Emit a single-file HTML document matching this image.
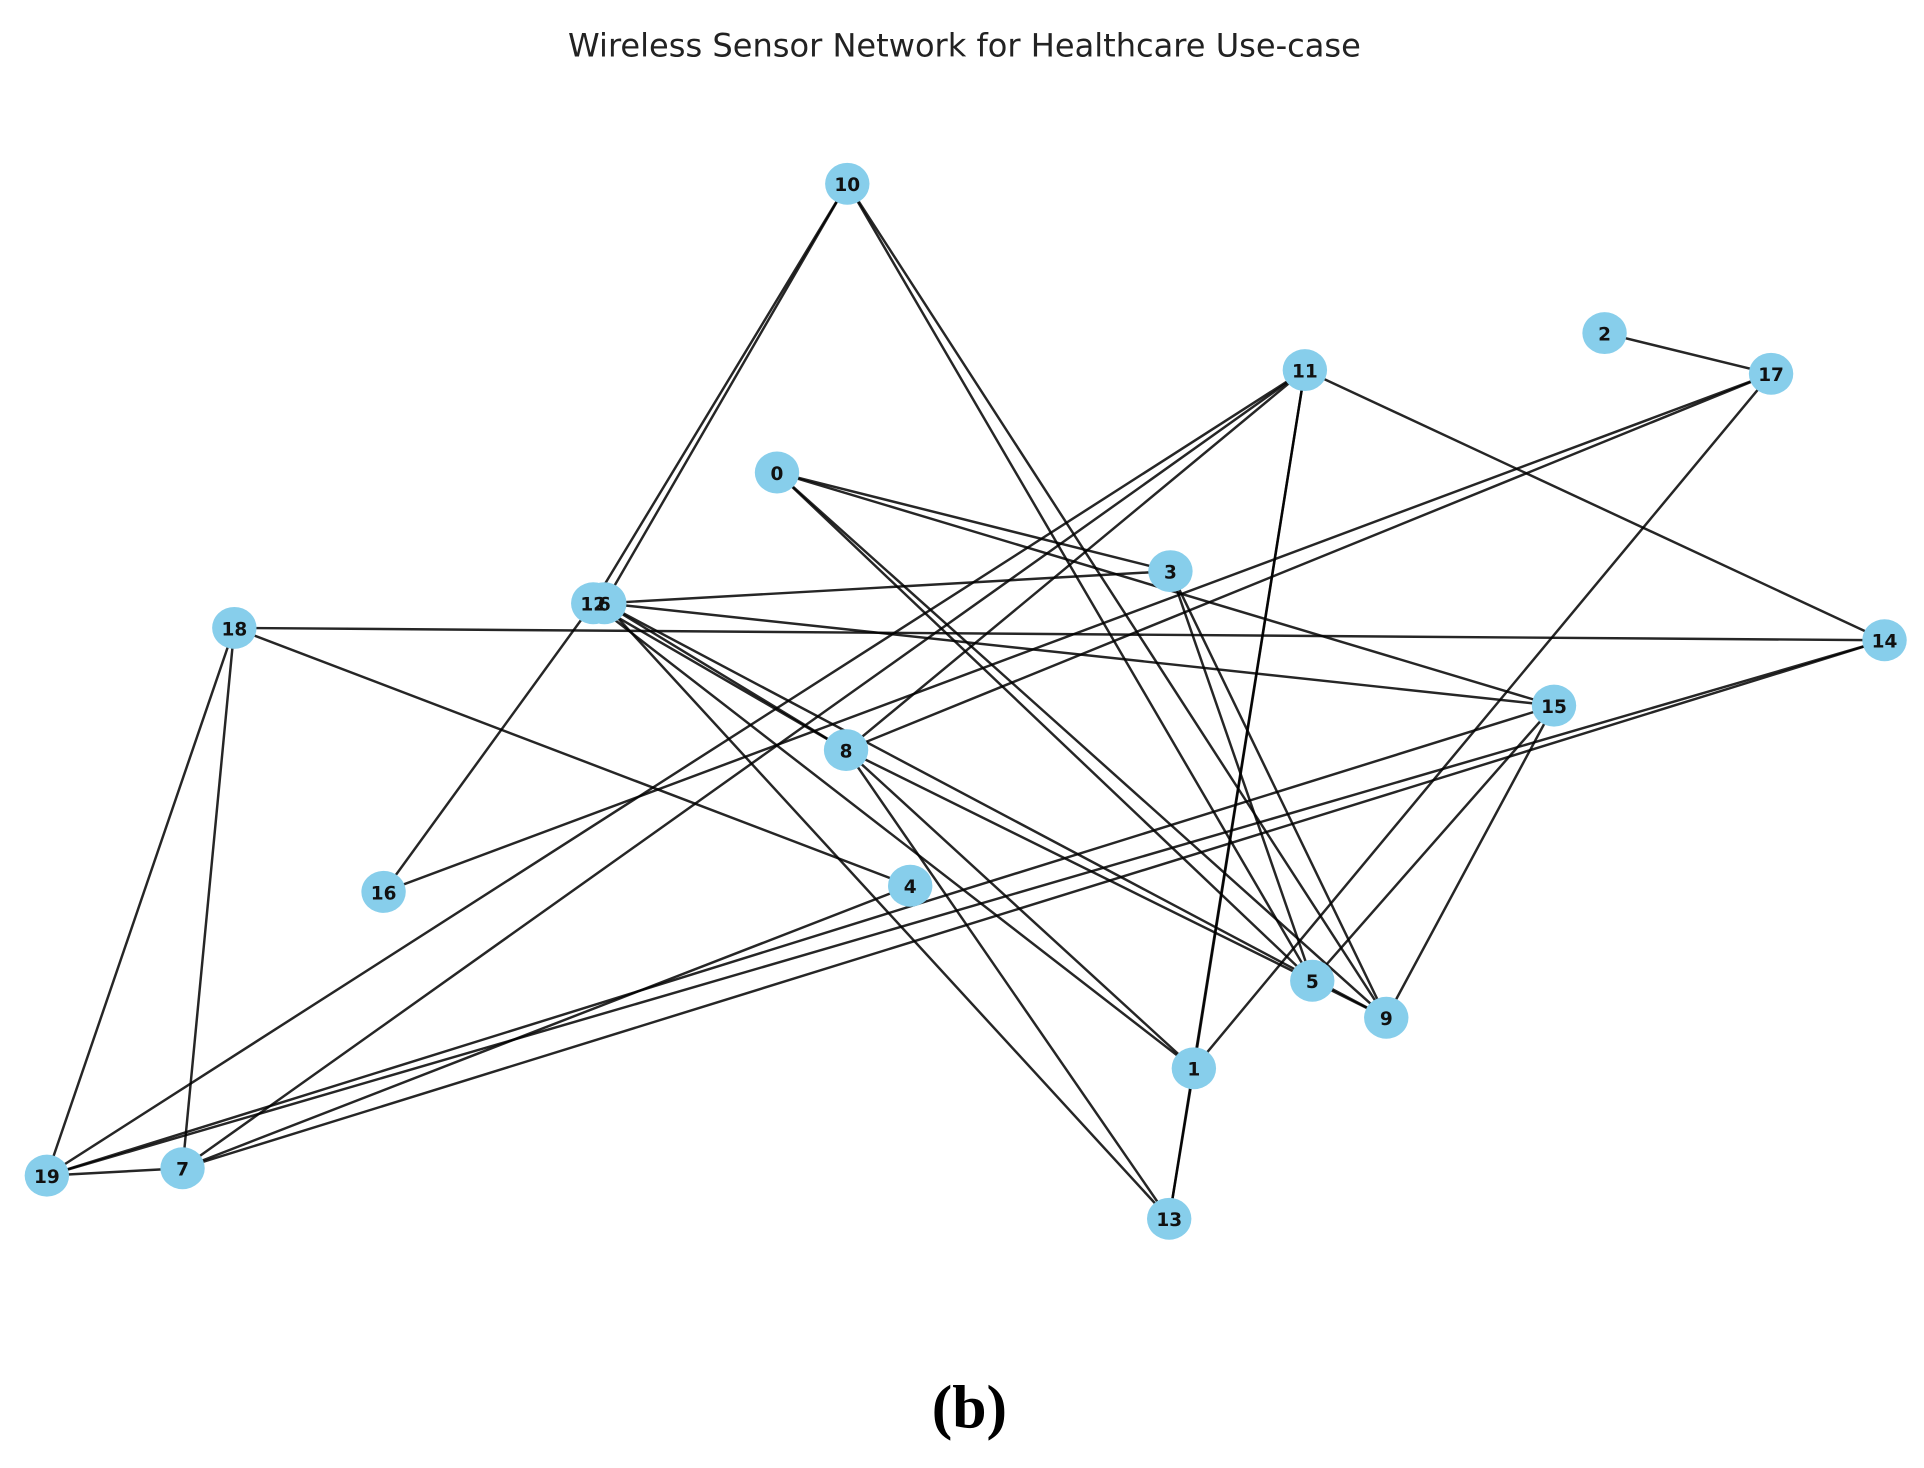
<!DOCTYPE html>
<html><head><meta charset="utf-8"><style>
html,body{margin:0;padding:0;background:#fff;}
svg{display:block;}
</style></head><body>
<svg width="1924" height="1468" viewBox="0 0 1560 1190" preserveAspectRatio="none" xmlns="http://www.w3.org/2000/svg">
<rect width="1560" height="1190" fill="#fff"/>
<text x="782" y="46" text-anchor="middle" font-family="DejaVu Sans, sans-serif" font-size="26" fill="#222">Wireless Sensor Network for Healthcare Use-case</text>
<text x="786" y="1157" text-anchor="middle" font-family="Liberation Serif, serif" font-size="50" font-weight="bold" fill="#000">(b)</text>
<g stroke="#000" stroke-width="2" stroke-opacity="0.85">
<line x1="1301" y1="270" x2="1436" y2="303"/>
<line x1="1436" y1="303" x2="311" y2="723"/>
<line x1="1436" y1="303" x2="686" y2="608"/>
<line x1="1436" y1="303" x2="968" y2="866"/>
<line x1="1058" y1="300" x2="686" y2="608"/>
<line x1="1058" y1="300" x2="38" y2="953"/>
<line x1="1058" y1="300" x2="148" y2="947"/>
<line x1="1058" y1="300" x2="968" y2="866"/>
<line x1="1058" y1="300" x2="948" y2="988"/>
<line x1="1058" y1="300" x2="1528" y2="519"/>
<line x1="687" y1="149" x2="481" y2="489"/>
<line x1="687" y1="149" x2="490" y2="489"/>
<line x1="687" y1="149" x2="1064" y2="795"/>
<line x1="687" y1="149" x2="1124" y2="825"/>
<line x1="630" y1="383" x2="949" y2="463"/>
<line x1="630" y1="383" x2="1260" y2="572"/>
<line x1="630" y1="383" x2="1064" y2="795"/>
<line x1="630" y1="383" x2="1124" y2="825"/>
<line x1="949" y1="463" x2="490" y2="489"/>
<line x1="949" y1="463" x2="1064" y2="795"/>
<line x1="949" y1="463" x2="1124" y2="825"/>
<line x1="490" y1="489" x2="1260" y2="572"/>
<line x1="490" y1="489" x2="686" y2="608"/>
<line x1="481" y1="489" x2="686" y2="608"/>
<line x1="490" y1="489" x2="1124" y2="825"/>
<line x1="481" y1="489" x2="968" y2="866"/>
<line x1="490" y1="489" x2="948" y2="988"/>
<line x1="481" y1="489" x2="311" y2="723"/>
<line x1="686" y1="608" x2="1064" y2="795"/>
<line x1="686" y1="608" x2="968" y2="866"/>
<line x1="686" y1="608" x2="948" y2="988"/>
<line x1="190" y1="509" x2="1528" y2="519"/>
<line x1="190" y1="509" x2="738" y2="718"/>
<line x1="190" y1="509" x2="38" y2="953"/>
<line x1="190" y1="509" x2="148" y2="947"/>
<line x1="1528" y1="519" x2="38" y2="953"/>
<line x1="1528" y1="519" x2="148" y2="947"/>
<line x1="1260" y1="572" x2="1064" y2="795"/>
<line x1="1260" y1="572" x2="1124" y2="825"/>
<line x1="1260" y1="572" x2="38" y2="953"/>
<line x1="738" y1="718" x2="148" y2="947"/>
<line x1="1064" y1="795" x2="1124" y2="825"/>
<line x1="38" y1="953" x2="148" y2="947"/>
<line x1="968" y1="866" x2="948" y2="988"/>
</g>
<g fill="#87CEEB">
<ellipse cx="687" cy="149" rx="18" ry="17"/>
<ellipse cx="1301" cy="270" rx="18" ry="17"/>
<ellipse cx="1436" cy="303" rx="18" ry="17"/>
<ellipse cx="1058" cy="300" rx="18" ry="17"/>
<ellipse cx="630" cy="383" rx="18" ry="17"/>
<ellipse cx="949" cy="463" rx="18" ry="17"/>
<ellipse cx="481" cy="489" rx="18" ry="17"/>
<ellipse cx="490" cy="489" rx="18" ry="17"/>
<ellipse cx="190" cy="509" rx="18" ry="17"/>
<ellipse cx="1528" cy="519" rx="18" ry="17"/>
<ellipse cx="1260" cy="572" rx="18" ry="17"/>
<ellipse cx="686" cy="608" rx="18" ry="17"/>
<ellipse cx="311" cy="723" rx="18" ry="17"/>
<ellipse cx="738" cy="718" rx="18" ry="17"/>
<ellipse cx="1064" cy="795" rx="18" ry="17"/>
<ellipse cx="1124" cy="825" rx="18" ry="17"/>
<ellipse cx="968" cy="866" rx="18" ry="17"/>
<ellipse cx="38" cy="953" rx="18" ry="17"/>
<ellipse cx="148" cy="947" rx="18" ry="17"/>
<ellipse cx="948" cy="988" rx="18" ry="17"/>
</g>
<g font-family="DejaVu Sans, sans-serif" font-size="15" font-weight="bold" fill="#111" text-anchor="middle">
<text x="687" y="155">10</text>
<text x="1301" y="276">2</text>
<text x="1436" y="309">17</text>
<text x="1058" y="306">11</text>
<text x="630" y="389">0</text>
<text x="949" y="469">3</text>
<text x="481" y="495">12</text>
<text x="490" y="495">6</text>
<text x="190" y="515">18</text>
<text x="1528" y="525">14</text>
<text x="1260" y="578">15</text>
<text x="686" y="614">8</text>
<text x="311" y="729">16</text>
<text x="738" y="724">4</text>
<text x="1064" y="801">5</text>
<text x="1124" y="831">9</text>
<text x="968" y="872">1</text>
<text x="38" y="959">19</text>
<text x="148" y="953">7</text>
<text x="948" y="994">13</text>
</g>
</svg>
</body></html>
